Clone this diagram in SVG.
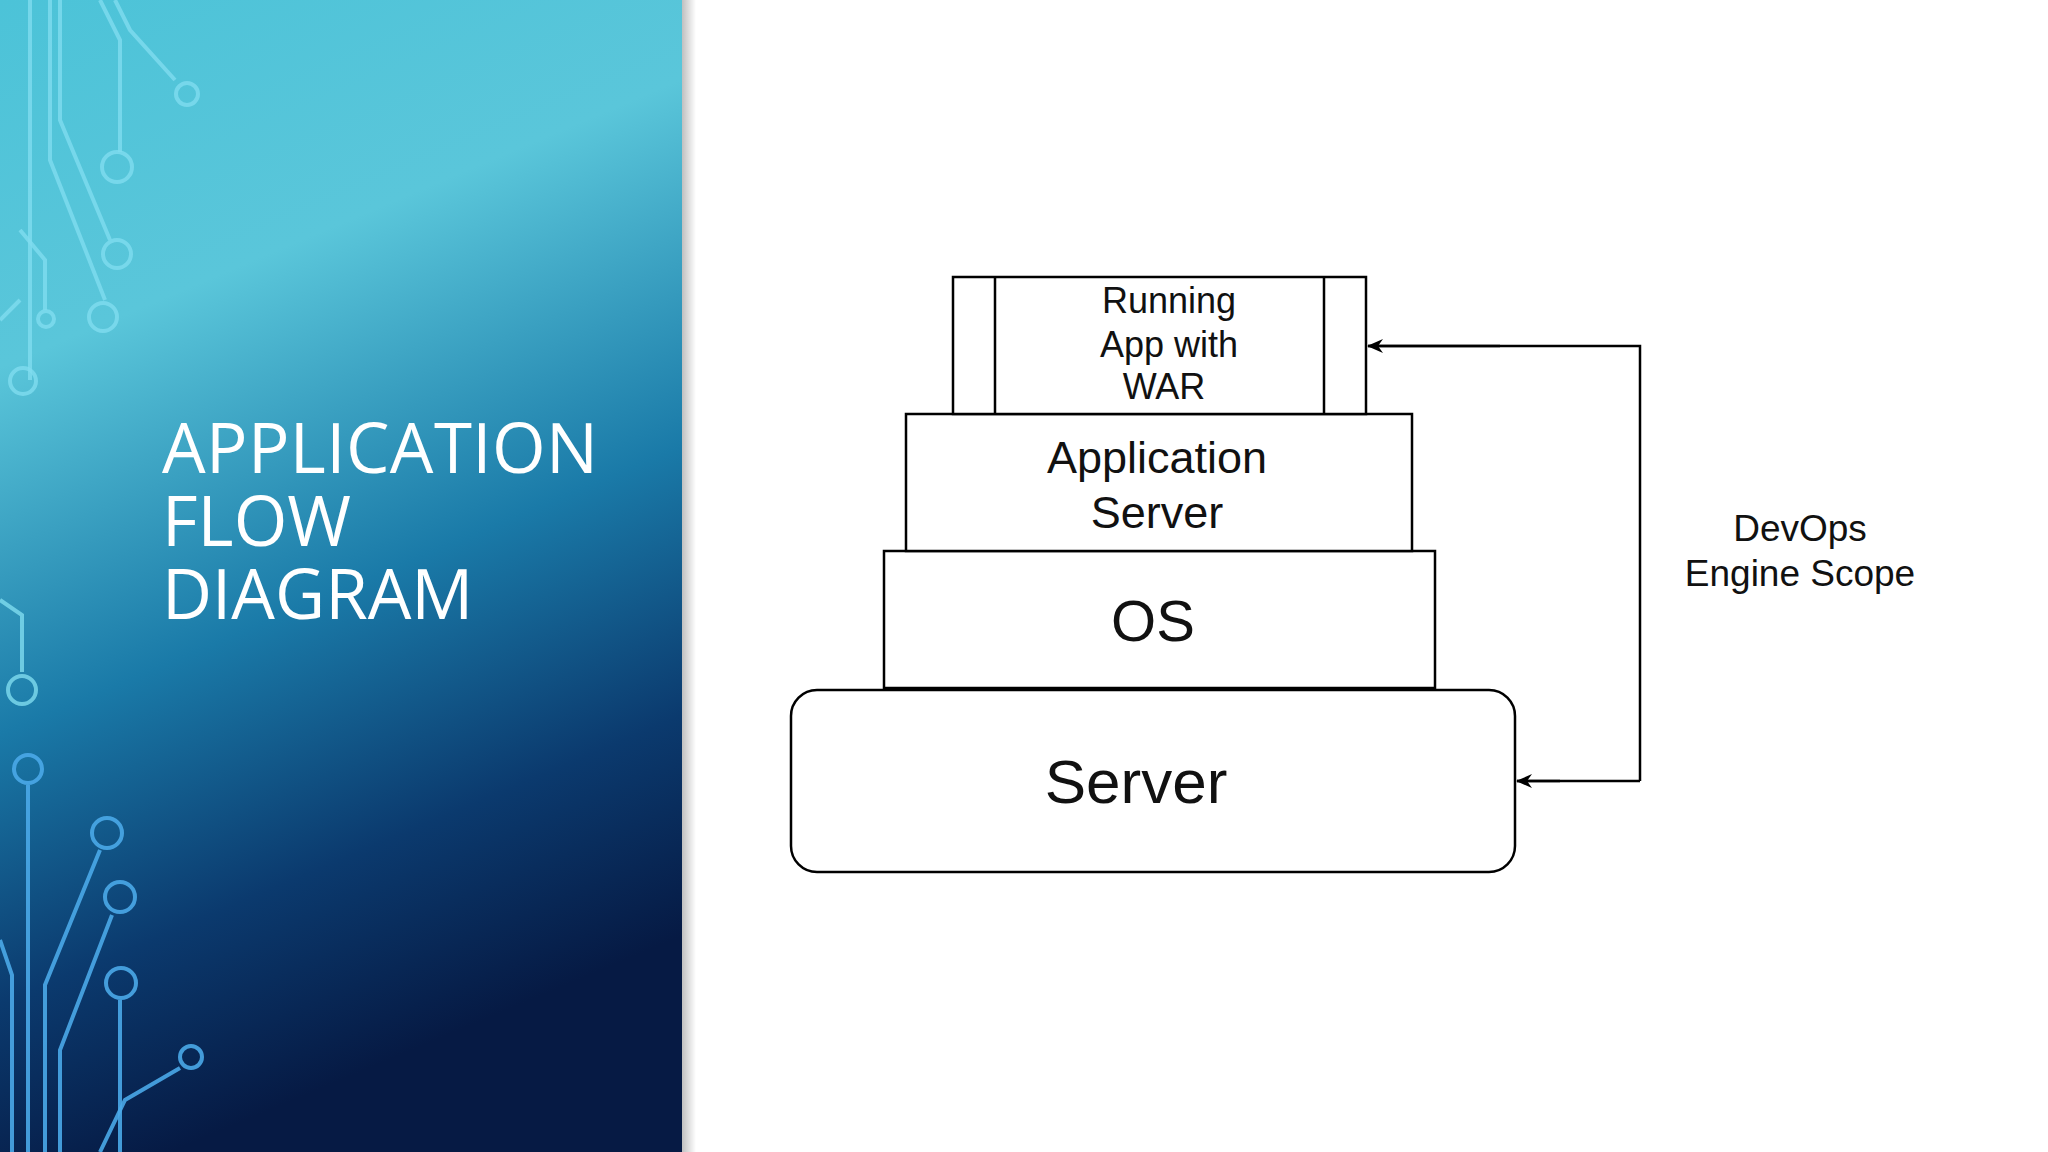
<svg xmlns="http://www.w3.org/2000/svg" width="2048" height="1152" viewBox="0 0 2048 1152">
<defs>
<linearGradient id="bg" x1="0" y1="0" x2="0.25" y2="1">
<stop offset="0" stop-color="#4cc3d8"/>
<stop offset="0.3" stop-color="#5ac6da"/>
<stop offset="0.6" stop-color="#1a7aa8"/>
<stop offset="0.82" stop-color="#0b3a6e"/>
<stop offset="1" stop-color="#061a44"/>
</linearGradient>
<linearGradient id="sh" x1="0" y1="0" x2="1" y2="0">
<stop offset="0" stop-color="#000" stop-opacity="0.25"/>
<stop offset="1" stop-color="#000" stop-opacity="0"/>
</linearGradient>
<marker id="ar" markerWidth="16" markerHeight="14" refX="15" refY="7" orient="auto" markerUnits="userSpaceOnUse">
<path d="M0,0 L16,7 L0,14 L5,7 Z" fill="#000"/>
</marker>
<style>
.box{fill:#fff;stroke:#000;stroke-width:2.5}
.t{font-family:"Liberation Sans",Arial,sans-serif;fill:#111;text-anchor:middle}
.c{fill:none;stroke:#7fdcef;stroke-width:4;stroke-opacity:0.8}
.cb{fill:none;stroke:#4aa8e8;stroke-width:4;stroke-opacity:0.9}
</style>
</defs>
<rect width="2048" height="1152" fill="#fff"/>
<rect x="682" y="0" width="14" height="1152" fill="url(#sh)"/>
<rect x="0" y="0" width="682" height="1152" fill="url(#bg)"/>
<g id="circuits">
<path class="c" d="M30,0 V380"/><circle class="c" cx="23" cy="381" r="13"/>
<path class="c" d="M50,0 V160 L105,300"/><circle class="c" cx="103" cy="317" r="14"/>
<path class="c" d="M60,0 V120 L110,240"/><circle class="c" cx="117" cy="254" r="14"/>
<path class="c" d="M100,0 L120,40 V152"/><circle class="c" cx="117" cy="167" r="15"/>
<path class="c" d="M115,0 L130,30 L175,80"/><circle class="c" cx="187" cy="94" r="11"/>
<path class="c" d="M20,230 L45,260 V310"/><circle class="c" cx="46" cy="319" r="8"/>
<path class="c" d="M0,320 L20,300"/>
<path class="c" d="M0,600 L22,615 V672"/><circle class="c" cx="22" cy="690" r="14"/>
<path class="cb" d="M28,785 V1152"/><circle class="cb" cx="28" cy="769" r="14"/>
<path class="cb" d="M45,1152 V985 L100,850"/><circle class="cb" cx="107" cy="833" r="15"/>
<path class="cb" d="M60,1152 V1050 L112,915"/><circle class="cb" cx="120" cy="897" r="15"/>
<path class="cb" d="M120,1152 V1000"/><circle class="cb" cx="121" cy="983" r="15"/>
<path class="cb" d="M100,1152 L125,1100 L180,1068"/><circle class="cb" cx="191" cy="1057" r="11"/>
<path class="cb" d="M0,940 L12,975 V1152"/>
</g>
<g id="title" font-family="'Open Sans','Liberation Sans',sans-serif" font-size="69" fill="#fff">
<text x="162" y="473" textLength="436">APPLICATION</text>
<text x="162" y="546">FLOW</text>
<text x="162" y="619">DIAGRAM</text>
</g>
<g id="server"><rect class="box" x="791" y="690" width="724" height="182" rx="26"/><text class="t" x="1136" y="803" font-size="62">Server</text></g>
<g id="os"><rect class="box" x="884" y="551" width="551" height="137"/><text class="t" x="1153" y="641" font-size="58">OS</text></g>
<g id="appserver"><rect class="box" x="906" y="414" width="506" height="137"/><text class="t" x="1157" y="473" font-size="45">Application</text><text class="t" x="1157" y="528" font-size="45">Server</text></g>
<g id="running"><rect class="box" x="953" y="277" width="413" height="137"/><path d="M995,277 V414 M1324,277 V414" stroke="#000" stroke-width="2.5"/>
<text class="t" x="1169" y="313" font-size="36">Running</text><text class="t" x="1169" y="357" font-size="36">App with</text><text class="t" x="1164" y="399" font-size="36">WAR</text></g>
<g id="connectors"><path d="M1640,781 H1517 M1640,781 V346 H1368" fill="none" stroke="#000" stroke-width="2.5"/>
<path d="M1560,781 H1517" stroke="#000" stroke-width="2.5" marker-end="url(#ar)"/>
<path d="M1500,346 H1368" stroke="#000" stroke-width="2.5" marker-end="url(#ar)"/></g>
<g id="label"><text class="t" x="1800" y="541" font-size="37" fill="#333">DevOps</text><text class="t" x="1800" y="586" font-size="37" fill="#333">Engine Scope</text></g>
</svg>
